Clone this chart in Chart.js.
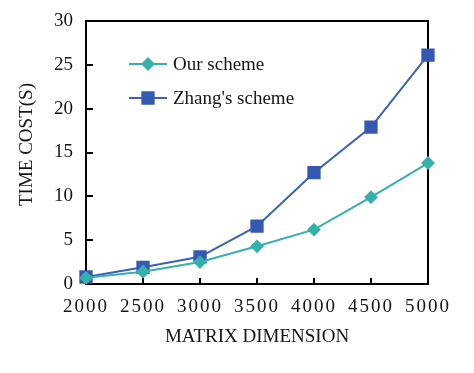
<!DOCTYPE html>
<html>
<head>
<meta charset="utf-8">
<script src="https://cdn.jsdelivr.net/npm/chart.js@4.4.1/dist/chart.umd.min.js"></script>
<style>
  html, body { margin: 0; padding: 0; background: #fff; }
  #wrap { width: 474px; height: 373px; position: relative; }
</style>
</head>
<body>
<div id="wrap"><canvas id="timeChart"></canvas></div>
<script>
// matrix dimension on the x axis
const dimensions = ['2000', '2500', '3000', '3500', '4000', '4500', '5000'];
// time cost in seconds
const ourScheme = [0.7, 1.4, 2.5, 4.3, 6.2, 9.9, 13.8];
const zhangScheme = [0.8, 1.9, 3.1, 6.6, 12.7, 17.9, 26.1];
const seriesNames = ['Our scheme', "Zhang's scheme"];
const yTitle = 'TIME COST(S)';

const FONT = "'Liberation Serif', 'Times New Roman', serif";
const TEAL = '#35b0aa';
const BLUE = '#3a5fbd';
const INK = '#151515';

// full box round the plot area plus inward tick marks, under the lines
const frameBox = {
  id: 'frameBox',
  beforeDatasetsDraw(chart) {
    const { ctx, chartArea: a, scales } = chart;
    ctx.save();
    ctx.strokeStyle = '#000';
    ctx.lineWidth = 2;
    ctx.strokeRect(a.left, a.top, a.right - a.left, a.bottom - a.top);
    ctx.beginPath();
    scales.y.ticks.forEach((t, i) => {
      const y = Math.round(scales.y.getPixelForTick(i));
      ctx.moveTo(a.left, y);
      ctx.lineTo(a.left + 7, y);
    });
    scales.x.ticks.forEach((t, i) => {
      const x = Math.round(scales.x.getPixelForTick(i));
      ctx.moveTo(x, a.bottom);
      ctx.lineTo(x, a.bottom - 6);
    });
    ctx.stroke();
    ctx.restore();
  }
};

// line + marker legend sitting inside the plot, and the y title
const innerLegend = {
  id: 'innerLegend',
  afterDatasetsDraw(chart) {
    const { ctx, chartArea: a } = chart;
    const x0 = a.left + 43, x1 = a.left + 81, tx = a.left + 87;
    ctx.save();
    ctx.font = '19px ' + FONT;
    ctx.textBaseline = 'middle';
    chart.data.datasets.forEach((ds, i) => {
      const y = a.top + 43 + i * 34;
      ctx.strokeStyle = ds.borderColor;
      ctx.lineWidth = ds.borderWidth;
      ctx.beginPath();
      ctx.moveTo(x0, y);
      ctx.lineTo(x1, y);
      ctx.stroke();
      ctx.fillStyle = ds.pointBackgroundColor;
      ctx.strokeStyle = ds.pointBorderColor;
      Chart.helpers.drawPoint(ctx, {
        pointStyle: ds.pointStyle, radius: ds.pointRadius, rotation: 0, borderWidth: 1
      }, (x0 + x1) / 2, y);
      ctx.fillStyle = INK;
      ctx.fillText(ds.label, tx, y + 1);
    });
    // y title sits a little above the middle of the axis
    ctx.translate(27, (a.top + a.bottom) / 2 - 8);
    ctx.rotate(-Math.PI / 2);
    ctx.textAlign = 'center';
    ctx.fillText(yTitle, 0, 0);
    ctx.restore();
  }
};

// wider spacing between the digits of the x tick labels
const spacedTicks = {
  id: 'spacedTicks',
  afterLayout(chart) {
    const sx = chart.scales.x;
    if (sx._spaced) return;
    const base = Object.getPrototypeOf(sx).drawLabels;
    sx.drawLabels = function (area) {
      const ctx = this.ctx;
      ctx.save();
      ctx.letterSpacing = '2px';
      base.call(this, area);
      ctx.restore();
    };
    sx._spaced = true;
  }
};

new Chart(document.getElementById('timeChart'), {
  type: 'line',
  data: {
    labels: dimensions,
    datasets: [
      {
        label: seriesNames[0],
        data: ourScheme,
        borderColor: TEAL,
        backgroundColor: TEAL,
        pointBackgroundColor: TEAL,
        pointBorderColor: TEAL,
        borderWidth: 2,
        pointStyle: 'rectRot',
        pointRadius: 5.5,
        tension: 0,
        clip: false
      },
      {
        label: seriesNames[1],
        data: zhangScheme,
        borderColor: BLUE,
        backgroundColor: '#3558b3',
        pointBackgroundColor: '#3558b3',
        pointBorderColor: '#3558b3',
        borderWidth: 2,
        pointStyle: 'rect',
        pointRadius: 8,
        tension: 0,
        clip: false
      }
    ]
  },
  options: {
    responsive: true,
    maintainAspectRatio: false,
    animation: false,
    layout: { padding: { left: 0, right: 46, top: 21, bottom: 0 } },
    plugins: {
      legend: { display: false },
      tooltip: { enabled: false }
    },
    scales: {
      x: {
        grid: { drawOnChartArea: false, drawTicks: false },
        border: { color: '#000', width: 2 },
        ticks: {
          color: INK, font: { family: FONT, size: 19 }, padding: 12,
          maxRotation: 0, autoSkip: false
        },
        title: {
          display: true, text: 'MATRIX DIMENSION', color: INK,
          font: { family: FONT, size: 19 }, padding: { top: 0, bottom: 25 }
        },
        afterFit(scale) {
          scale.height = 89;
          scale.paddingLeft = 0;
          scale.paddingRight = 0;
        }
      },
      y: {
        min: 0,
        max: 30,
        grid: { drawOnChartArea: false, drawTicks: false },
        border: { color: '#000', width: 2 },
        ticks: { stepSize: 5, color: INK, font: { family: FONT, size: 19 }, padding: 13 },
        title: { display: false },
        afterFit(scale) {
          scale.width = 86;
          scale.paddingTop = 0;
          scale.paddingBottom = 0;
        }
      }
    }
  },
  plugins: [frameBox, innerLegend, spacedTicks]
});
</script>
</body>
</html>
